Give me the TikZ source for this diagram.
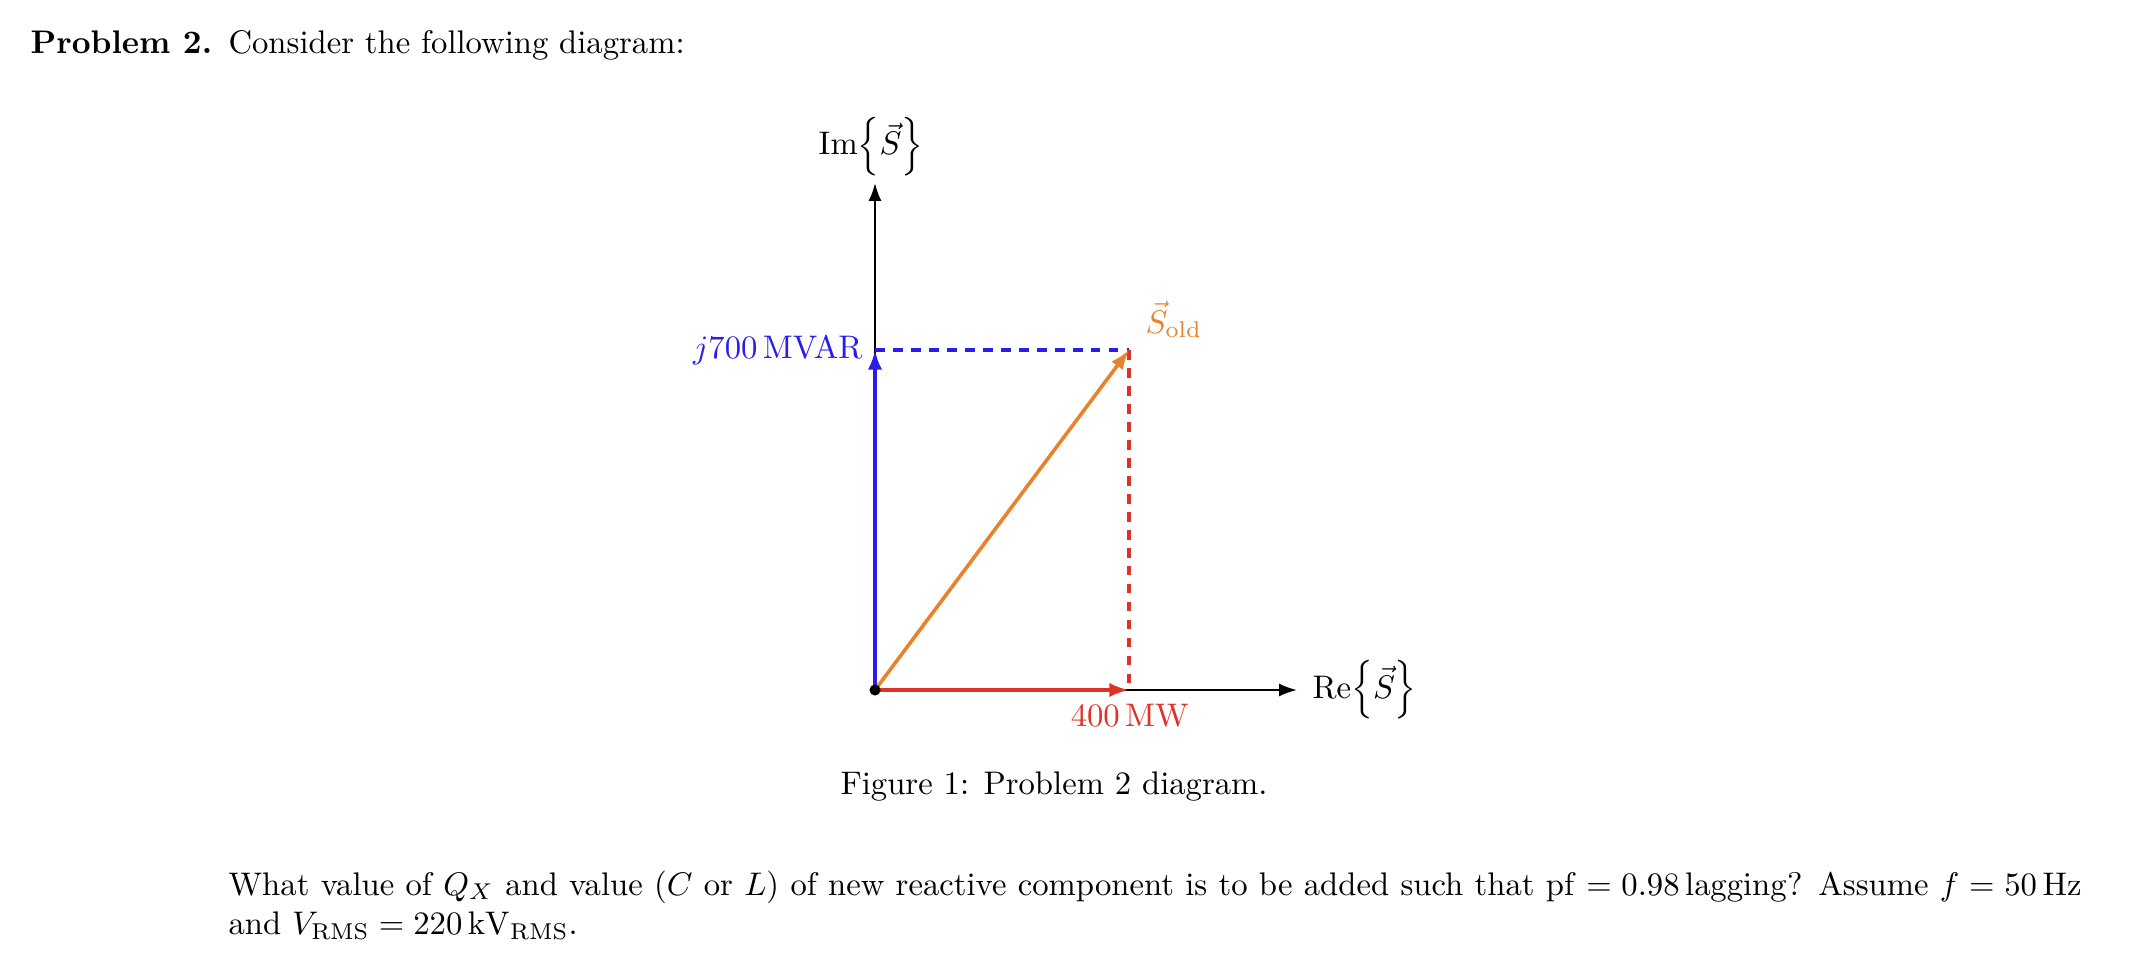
\documentclass[tikz,border=0pt]{standalone}
\usepackage{amsmath}
\usetikzlibrary{arrows.meta}
\definecolor{vblue}{RGB}{40,30,235}
\definecolor{vred}{RGB}{222,50,38}
\definecolor{vorange}{RGB}{232,130,45}
\tikzset{
  axis/.style={line width=0.7pt,black,-{Latex[length=5.5pt,width=4pt]}},
  vec/.style={line width=1.1pt,-{Latex[length=6pt,width=4.4pt]}},
  dashline/.style={line width=1.1pt,dashed,dash pattern=on 3pt off 2.5pt},
  txt/.style={inner sep=0pt,anchor=base west}
}
\begin{document}
\begin{tikzpicture}[x=0.306pt,y=-0.306pt]
\useasboundingbox (0,0) rectangle (2155,966);
% points
\coordinate (O) at (875,690);
\coordinate (P) at (1129,690);
\coordinate (Q) at (875,350);
\coordinate (S) at (1129,350);
\coordinate (ImEnd) at (875,183);
\coordinate (ReEnd) at (1297,690);
% heading
\node[txt] (head) at (30,54) {\textbf{Problem 2.}\enspace Consider the following diagram:};
% axes
\draw[axis] (O) -- (ImEnd);
\draw[axis] (O) -- (ReEnd);
\node[anchor=base,inner sep=0pt] (imlab) at (871,155) {$\mathrm{Im}\Bigl\{\vec{S}\Bigr\}$};
\node[anchor=base west,inner sep=0pt] (relab) at (1312,698) {$\mathrm{Re}\Bigl\{\vec{S}\Bigr\}$};
% dashed projections
\draw[dashline,vblue] (Q) -- (S);
\draw[dashline,vred] (S) -- (P);
% vectors
\draw[vec,vblue] (O) -- (Q);
\draw[vec,vred] (O) -- (P);
\draw[vec,vorange] (O) -- (S);
\fill (O) circle (1.7pt);
% labels
\node[anchor=base east,inner sep=0pt,text=vblue] (qlab) at (863,359) {$j700\,\mathrm{MVAR}$};
\node[anchor=base,inner sep=0pt,text=vred] (plab) at (1130,726) {$400\,\mathrm{MW}$};
\node[anchor=base west,inner sep=0pt,text=vorange] (slab) at (1145,333) {$\vec{S}_{\mathrm{old}}$};
% caption
\node[inner sep=0pt,anchor=base] (cap) at (1054,794) {Figure 1: Problem 2 diagram.};
% question
\node[txt] (quest) at (228,895) {\parbox[t]{567pt}{\noindent What value of $Q_X$ and value $(C$ or $L)$ of new reactive component is to be added such that $\mathrm{pf}=0.98\,\mathrm{lagging}$? Assume $f=50\,\mathrm{Hz}$\linebreak and $V_{\mathrm{RMS}}=220\,\mathrm{kV}_{\mathrm{RMS}}$.}};
\end{tikzpicture}
\end{document}
